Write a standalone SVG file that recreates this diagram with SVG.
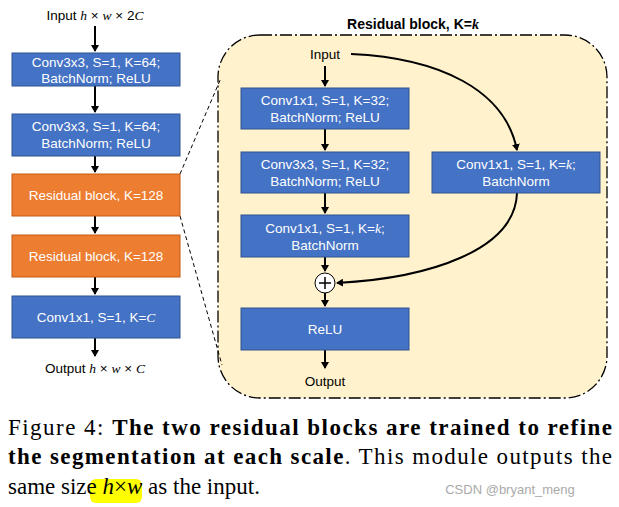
<svg xmlns="http://www.w3.org/2000/svg" width="619" height="507" viewBox="0 0 619 507">
<style>
.b{fill:#4472c4;stroke:#2f528f;stroke-width:1}
.o{fill:#ed7d31;stroke:#c55a11;stroke-width:1}
.t{font-family:"Liberation Sans",Arial,sans-serif;font-size:13.5px;fill:#fff;text-anchor:middle}
.k{font-family:"Liberation Sans",Arial,sans-serif;font-size:13.5px;fill:#000;text-anchor:middle}
.m{font-family:"Liberation Serif",serif;font-style:italic}
.a{stroke:#000;stroke-width:2;fill:none;marker-end:url(#ar)}
.c{font-family:"Liberation Serif","Times New Roman",serif;font-size:23px;fill:#000}
</style>
<defs><marker id="ar" markerWidth="8" markerHeight="8" refX="6" refY="4" orient="auto" markerUnits="userSpaceOnUse"><path d="M0,0L7,4L0,8z" fill="#000"/></marker></defs>
<rect width="619" height="507" fill="#fff"/>
<g id="panel">
<rect x="218" y="35" width="389" height="363" rx="42" fill="#fff2cc" stroke="#000" stroke-width="1.3" stroke-dasharray="12,3,2,3"/>
<text x="413" y="29" class="k" style="font-weight:bold;font-size:14px">Residual block, K=<tspan class="m">k</tspan></text>
</g>
<g id="zoomlines" stroke="#000" stroke-width="1" stroke-dasharray="4,3"><line x1="180" y1="174" x2="221" y2="78"/><line x1="180" y1="216" x2="222" y2="365"/></g>
<g id="connectors">
<line x1="95" y1="26" x2="95" y2="51" class="a"/>
<line x1="95" y1="86" x2="95" y2="112" class="a"/>
<line x1="95" y1="156" x2="95" y2="172" class="a"/>
<line x1="95" y1="216" x2="95" y2="233" class="a"/>
<line x1="95" y1="277" x2="95" y2="294" class="a"/>
<line x1="95" y1="338" x2="95" y2="356" class="a"/>
<line x1="325" y1="66" x2="325" y2="86" class="a"/>
<line x1="325" y1="129" x2="325" y2="150" class="a"/>
<line x1="325" y1="193" x2="325" y2="213" class="a"/>
<line x1="325" y1="257" x2="325" y2="271" class="a"/>
<line x1="325" y1="293" x2="325" y2="306" class="a"/>
<line x1="325" y1="350" x2="325" y2="368" class="a"/>
<path d="M351,54C440,58 505,90 517,150" class="a"/>
<path d="M517,193C515,250 430,278 337,283" class="a"/>
</g>
<g id="input"><text x="95" y="20" class="k" style="fill:#000">Input <tspan class="m">h</tspan> × <tspan class="m">w</tspan> × 2<tspan class="m">C</tspan></text></g>
<g id="n1"><rect x="12" y="53" width="168" height="33" class="b"/><text x="96" y="67" class="t">Conv3x3, S=1, K=64;</text><text x="96" y="83" class="t">BatchNorm; ReLU</text></g>
<g id="n2"><rect x="12" y="114" width="168" height="42" class="b"/><text x="96" y="131" class="t">Conv3x3, S=1, K=64;</text><text x="96" y="148" class="t">BatchNorm; ReLU</text></g>
<g id="n3"><rect x="12" y="174" width="168" height="42" class="o"/><text x="96" y="200" class="t">Residual block, K=128</text></g>
<g id="n4"><rect x="12" y="235" width="168" height="42" class="o"/><text x="96" y="261" class="t">Residual block, K=128</text></g>
<g id="n5"><rect x="12" y="296" width="168" height="42" class="b"/><text x="96" y="322" class="t">Conv1x1, S=1, K=<tspan class="m">C</tspan></text></g>
<g id="output"><text x="95" y="373" class="k">Output <tspan class="m">h</tspan> × <tspan class="m">w</tspan> × <tspan class="m">C</tspan></text></g>
<g id="rin"><text x="325" y="59" class="k">Input</text></g>
<g id="r1"><rect x="241" y="88" width="168" height="41" class="b"/><text x="325" y="105" class="t">Conv1x1, S=1, K=32;</text><text x="325" y="122" class="t">BatchNorm; ReLU</text></g>
<g id="r2"><rect x="241" y="152" width="168" height="41" class="b"/><text x="325" y="169" class="t">Conv3x3, S=1, K=32;</text><text x="325" y="186" class="t">BatchNorm; ReLU</text></g>
<g id="r3"><rect x="241" y="215" width="168" height="42" class="b"/><text x="325" y="233" class="t">Conv1x1, S=1, K=<tspan class="m">k</tspan>;</text><text x="325" y="250" class="t">BatchNorm</text></g>
<g id="plus"><circle cx="325" cy="283" r="10" fill="#fff" stroke="#000"/><path d="M319,283h12M325,277v12" stroke="#000" stroke-width="1.5"/></g>
<g id="relu"><rect x="241" y="308" width="168" height="42" class="b"/><text x="325" y="334" class="t">ReLU</text></g>
<g id="rout"><text x="325" y="386" class="k">Output</text></g>
<g id="rs"><rect x="432" y="152" width="168" height="41" class="b"/><text x="516" y="169" class="t">Conv1x1, S=1, K=<tspan class="m">k</tspan>;</text><text x="516" y="186" class="t">BatchNorm</text></g>
<g id="caption">
<rect x="90" y="479" width="52" height="24" rx="6" fill="#ffff00"/>
<text x="8" y="435" class="c" textLength="604" lengthAdjust="spacing">Figure 4:  <tspan font-weight="bold">The two residual blocks are trained to refine</tspan></text>
<text x="8" y="464" class="c" textLength="604" lengthAdjust="spacing"><tspan font-weight="bold">the segmentation at each scale</tspan>.  This module outputs the</text>
<text x="8" y="494" class="c">same size <tspan font-style="italic">h</tspan>×<tspan font-style="italic">w</tspan> as the input.</text>
<text x="510" y="494" font-family="Liberation Sans,Arial,sans-serif" font-size="13" fill="#aaa" text-anchor="middle">CSDN @bryant_meng</text>
</g>
</svg>
